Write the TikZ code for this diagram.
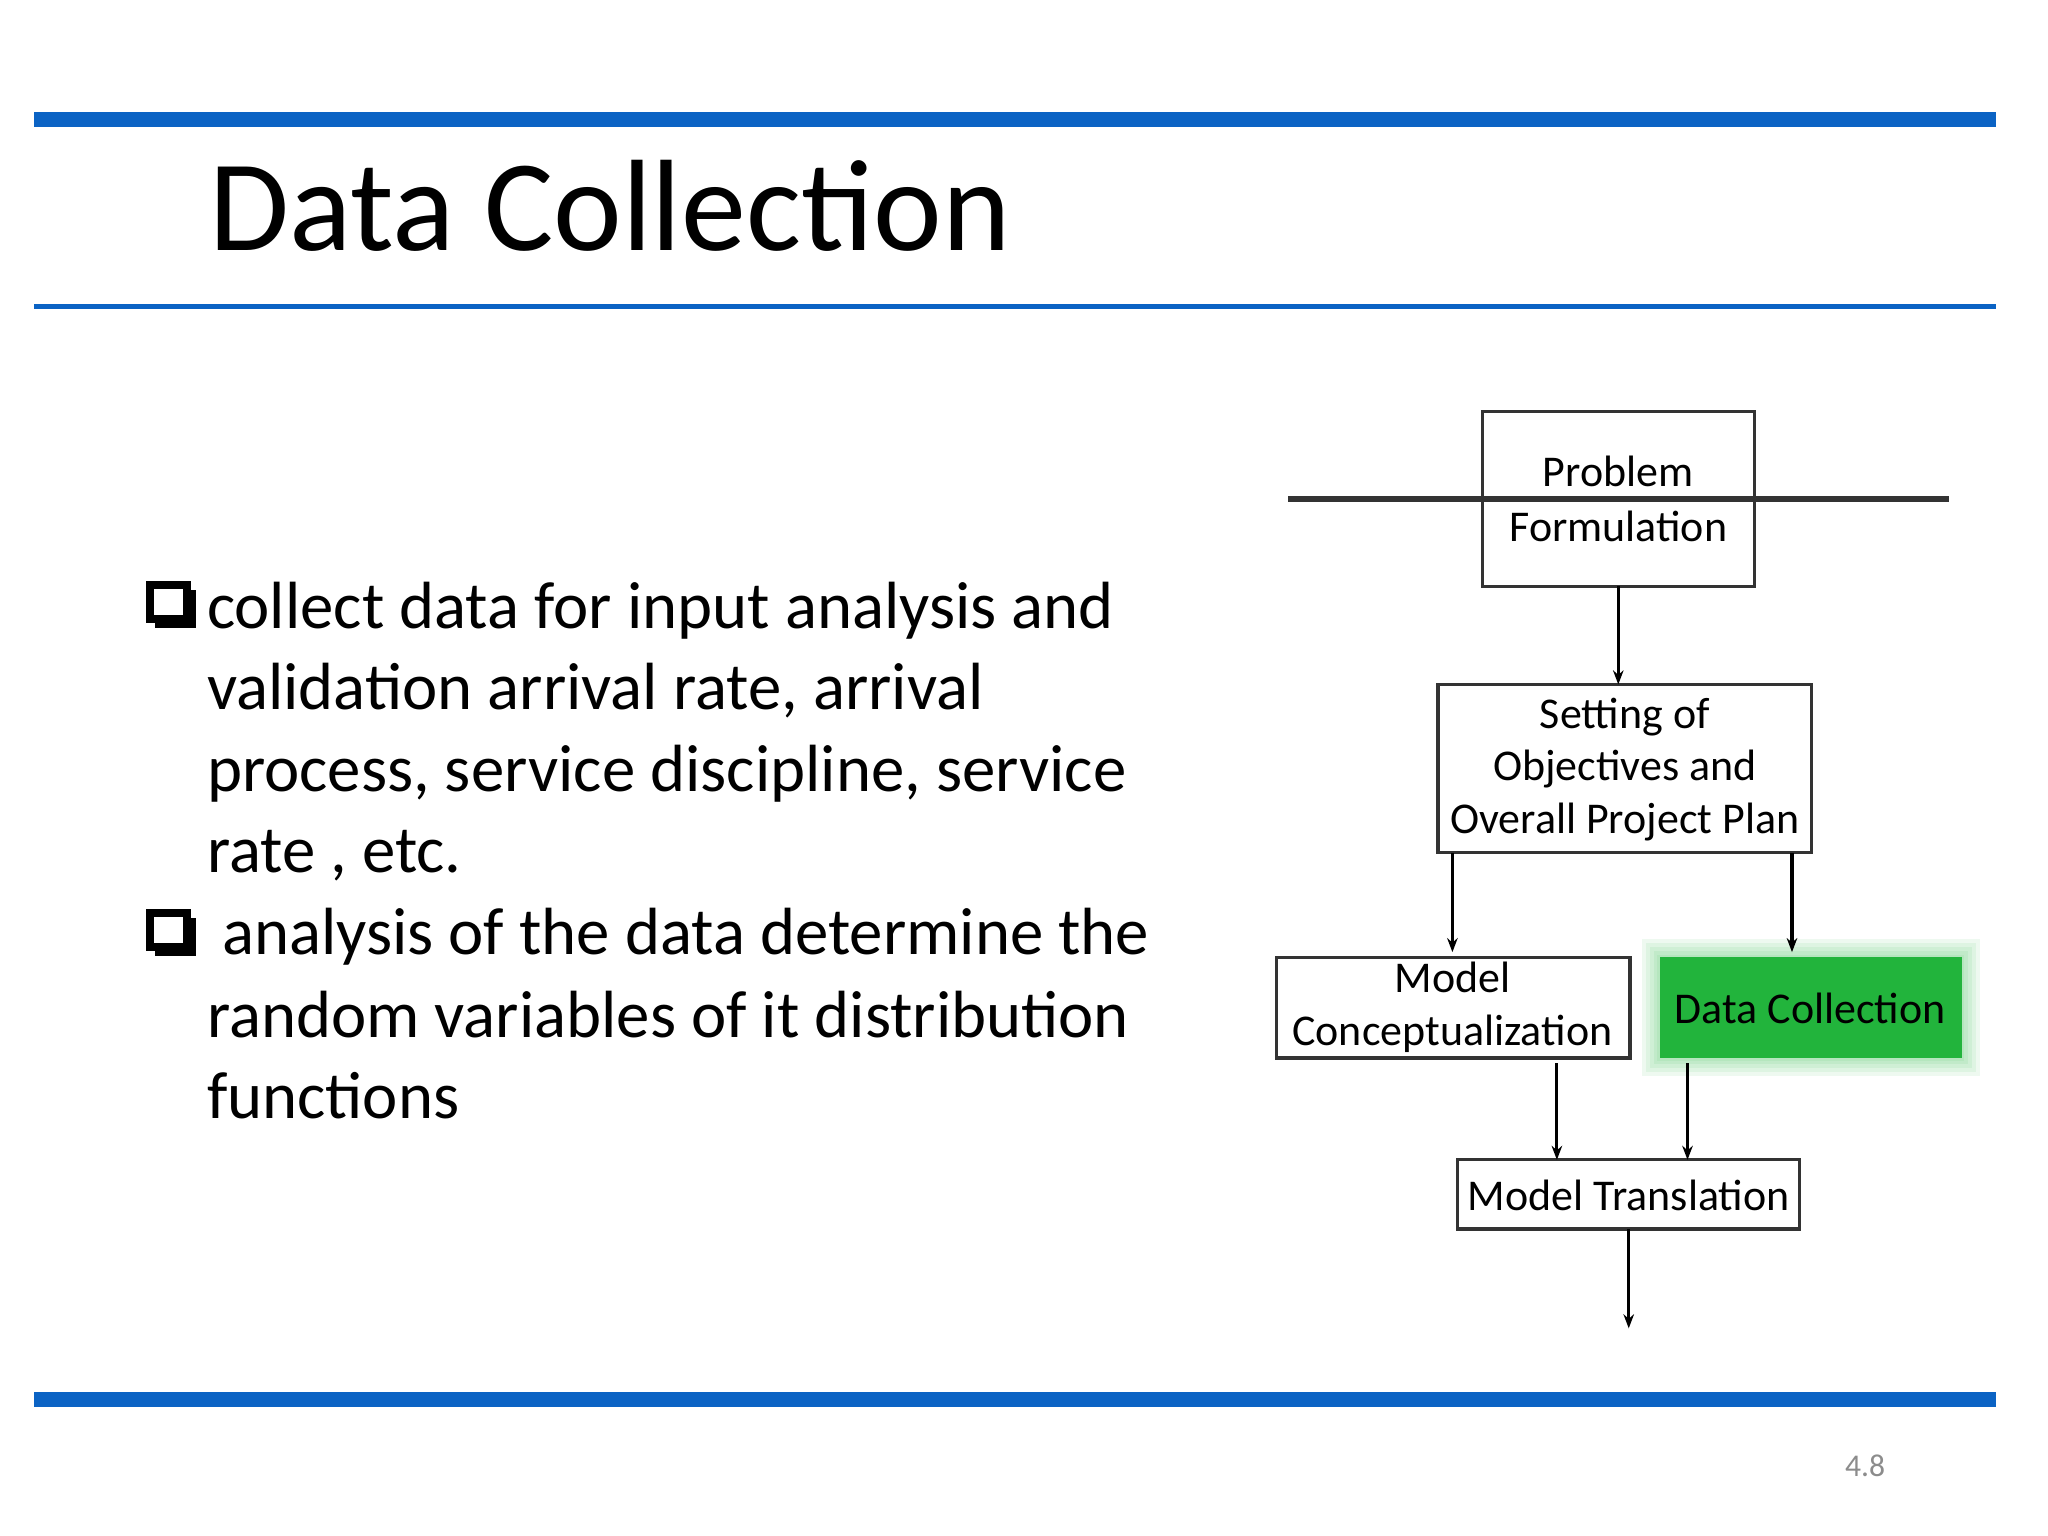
\documentclass[tikz,border=0pt]{standalone}
\usepackage{fontspec}
\setmainfont{Carlito}
\usetikzlibrary{arrows.meta}
\definecolor{bar}{HTML}{0B63C4}
\definecolor{grn}{HTML}{22B43C}
\begin{document}
\begin{tikzpicture}[x=0.013061cm,y=-0.013061cm,
  box/.style={draw=black!80,line width=0.9pt,align=center,font=\fontsize{12.5}{15}\selectfont,inner sep=0pt},
  arr/.style={-{Stealth[length=4pt,width=3pt]},line width=0.9pt}]
\useasboundingbox (0,0) rectangle (1568,1176);
\fill[bar] (26,86) rectangle (1528,97);
\fill[bar] (26,233) rectangle (1528,236.5);
\fill[bar] (26,1066) rectangle (1528,1077);
\node[anchor=base west,font=\fontsize{37}{44}\selectfont,inner sep=0] (title) at (160,192) {Data Collection};
\node[anchor=north west,font=\fontsize{19}{23.5}\selectfont,inner sep=0,text width=760\pgflinewidth] (dummy) at (0,0) {};
\foreach \t/\y [count=\i] in {{collect data for input analysis and}/465,{validation arrival rate, arrival}/527,{process, service discipline, service}/590,{rate , etc.}/652,{\ analysis of the data determine the}/715,{random variables of it distribution}/778,{functions}/840}
  \node[anchor=base west,font=\fontsize{19}{23}\selectfont,inner sep=0] (l\i) at (158,\y+16) {\t};
\draw[line width=2.2pt] (115,448) rectangle (143,474); \fill (143,452) rectangle (150,481); \fill (119,474) rectangle (150,481);
\draw[line width=2.2pt] (115,699) rectangle (143,725); \fill (143,703) rectangle (150,732); \fill (119,725) rectangle (150,732);
% glow
\foreach \k in {14,11,8,5,2} \fill[grn,opacity=0.08] (1271-\k,733-\k) rectangle (1502+\k,810+\k);
\node[box,minimum width=208\pgflinewidth] (pf) at (1239,382) {};
\draw[black!80,line width=0.9pt] (1135,315) rectangle (1343,449);
\node[font=\fontsize{12.5}{15.5}\selectfont,align=center] (pft) at (1239,382) {Problem\\Formulation};
\draw[black!80,line width=0.9pt] (1101,524) rectangle (1387,653);
\node[font=\fontsize{12.5}{15}\selectfont,align=center] (so) at (1244,589) {Setting of\\Objectives and\\Overall Project Plan};
\draw[black!80,line width=0.9pt] (977,733) rectangle (1248,810);
\node[font=\fontsize{12.5}{15}\selectfont,align=center] (mc) at (1112,771) {Model\\Conceptualization};
\fill[grn] (1271,733) rectangle (1502,810);
\node[font=\fontsize{12.5}{15}\selectfont] (dc) at (1386,772) {Data Collection};
\draw[black!80,line width=0.9pt] (1116,888) rectangle (1378,941);
\node[font=\fontsize{12.5}{15}\selectfont] (mt) at (1247,915) {Model Translation};
\coordinate (a1) at (1239,449); \coordinate (b1) at (1239,524);
\coordinate (a2) at (1112,653); \coordinate (b2) at (1112,729);
\coordinate (a3) at (1372,653); \coordinate (b3) at (1372,729);
\coordinate (a4) at (1192,814); \coordinate (b4) at (1192,888);
\coordinate (a5) at (1292,814); \coordinate (b5) at (1292,888);
\coordinate (a6) at (1247,941); \coordinate (b6) at (1247,1017);
\foreach \i in {1,...,6} \draw[arr] (a\i) -- (b\i);
\node[font=\fontsize{9}{11}\selectfont,text=black!45] (pg) at (1428,1122) {4.8};
\end{tikzpicture}
\end{document}
